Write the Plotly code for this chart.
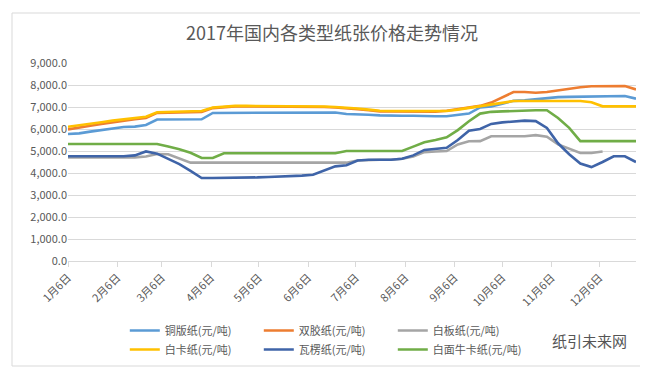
import plotly.graph_objects as go
import pandas as pd

# ---------------- data ----------------
dates = pd.date_range("2017-01-06", periods=52, freq="7D")

copper = [5770, 5800, 5880, 5960, 6030, 6090, 6110, 6180, 6430, 6430,
          6430, 6430, 6440, 6730, 6730, 6730, 6730, 6730, 6730, 6730,
          6730, 6730, 6740, 6750, 6750, 6680, 6680, 6650, 6620, 6600,
          6600, 6600, 6580, 6580, 6580, 6650, 6700, 6980, 7030, 7150,
          7280, 7300, 7350, 7420, 7450, 7460, 7470, 7480, 7500, 7500,
          7500, 7380]
offset = [5980, 6050, 6150, 6230, 6310, 6380, 6450, 6500, 6730, 6740,
          6750, 6760, 6780, 6950, 7000, 7030, 7030, 7030, 7030, 7030,
          7030, 7030, 7020, 7000, 6980, 6950, 6900, 6850, 6800, 6800,
          6800, 6800, 6790, 6790, 6830, 6900, 6980, 7050, 7200, 7450,
          7680, 7680, 7650, 7680, 7760, 7830, 7900, 7940, 7950, 7950,
          7950, 7800]
whiteboard = [4710, 4710, 4710, 4710, 4710, 4710, 4710, 4750, 4860, 4850,
              4650, 4470, 4470, 4470, 4470, 4470, 4470, 4470, 4470, 4470,
              4470, 4470, 4470, 4470, 4470, 4470, 4570, 4600, 4600, 4600,
              4650, 4750, 4950, 4980, 5000, 5300, 5440, 5450, 5670, 5670,
              5670, 5670, 5720, 5650, 5300, 5100, 4910, 4910, 4980, None,
              None, None]
ivory = [6100, 6160, 6230, 6310, 6380, 6440, 6500, 6560, 6760, 6780,
         6800, 6800, 6820, 6980, 7030, 7050, 7050, 7050, 7050, 7050,
         7050, 7050, 7040, 7020, 7000, 6980, 6930, 6880, 6830, 6820,
         6820, 6820, 6800, 6800, 6820, 6880, 6960, 7050, 7120, 7200,
         7270, 7270, 7270, 7270, 7270, 7270, 7270, 7220, 7030, 7030,
         7030, 7030]
corrugated = [4760, 4760, 4760, 4760, 4760, 4760, 4800, 4980, 4880, 4650,
              4400, 4100, 3770, 3770, 3770, 3770, 3770, 3800, 3820, 3830,
              3850, 3880, 3920, 4100, 4300, 4350, 4570, 4600, 4600, 4600,
              4650, 4800, 5050, 5100, 5150, 5500, 5920, 6000, 6230, 6300,
              6350, 6380, 6360, 6050, 5350, 4850, 4430, 4270, 4500, 4760,
              4760, 4500]
kraft = [5320, 5320, 5320, 5320, 5320, 5320, 5320, 5320, 5320, 5200,
         5080, 4920, 4680, 4680, 4900, 4900, 4900, 4900, 4900, 4900,
         4900, 4900, 4900, 4900, 4900, 5000, 5000, 5000, 5000, 5000,
         5000, 5200, 5400, 5500, 5620, 5950, 6350, 6700, 6780, 6800,
         6820, 6850, 6850, 6850, 6500, 6050, 5450, 5450, 5450, 5450,
         5450, 5450]

series_names = ["铜版纸(元/吨)", "双胶纸(元/吨)", "白板纸(元/吨)",
                "白卡纸(元/吨)", "瓦楞纸(元/吨)", "白面牛卡纸(元/吨)"]
series_values = [copper, offset, whiteboard, ivory, corrugated, kraft]
series_colors = ["#5B9BD5", "#ED7D31", "#A5A5A5", "#FFC000", "#3F64A8", "#70AD47"]

tick_dates = [pd.Timestamp(2017, m, 6) for m in range(1, 13)]
tick_labels = [f"{m}月6日" for m in range(1, 13)]

title_text = "2017年国内各类型纸张价格走势情况"
source_text = "纸引未来网"
FONT = "Noto Sans CJK SC"

# ---------------- figure ----------------
fig = go.Figure()
for i in range(6):
    fig.add_trace(go.Scatter(
        x=dates, y=series_values[i], name=series_names[i], mode="lines",
        line=dict(color=series_colors[i], width=2.6),
        connectgaps=False,
        legend="legend" if i < 3 else "legend2",
    ))

legend_common = dict(orientation="h", xanchor="left", yanchor="top",
                     entrywidth=89, entrywidthmode="pixels", itemwidth=30,
                     font=dict(size=11, color="#595959", family=FONT),
                     bgcolor="rgba(0,0,0,0)")

fig.update_layout(
    width=648, height=367,
    margin=dict(l=60, r=20, t=55, b=114, autoexpand=False),
    paper_bgcolor="white", plot_bgcolor="white",
    font=dict(family=FONT, color="#595959", size=11),
    title=dict(text=title_text, x=0.5, xref="container", y=1 - 26 / 367, yref="container",
               xanchor="center", yanchor="middle",
               font=dict(size=18, color="#595959", family=FONT)),
    showlegend=True,
    legend=dict(x=0.1, y=-0.278, **legend_common),
    legend2=dict(x=0.1, y=-0.374, **legend_common),
    xaxis=dict(
        type="date", range=[dates[0], dates[-1]], automargin=False,
        tickvals=tick_dates, ticktext=tick_labels, tickangle=-45,
        showgrid=False, showline=True, linecolor="#D9D9D9", linewidth=1,
        ticks="outside", ticklen=5, tickcolor="#D9D9D9",
        tickfont=dict(size=11, color="#595959", family=FONT),
        zeroline=False,
    ),
    yaxis=dict(
        range=[0, 9000], dtick=1000, tickformat=",.1f", automargin=False,
        showgrid=True, gridcolor="#D9D9D9", gridwidth=1,
        zeroline=False, showline=False, ticks="",
        tickfont=dict(size=11, color="#595959", family=FONT),
    ),
)

# chart border (Excel chart area)
fig.add_shape(type="rect", xref="paper", yref="paper",
              x0=(4 - 60) / 568, x1=(640 - 60) / 568,
              y0=(253 - 358) / 198, y1=(253 - 5) / 198,
              line=dict(color="#D9D9D9", width=1), fillcolor="rgba(0,0,0,0)",
              layer="below")

# source watermark at lower right
fig.add_annotation(text=source_text, xref="paper", yref="paper",
                   x=(542 - 60) / 568, y=(253 - 332) / 198,
                   xanchor="left", yanchor="middle", showarrow=False,
                   font=dict(size=15, color="#555555", family=FONT))

fig.write_html("out.html")
